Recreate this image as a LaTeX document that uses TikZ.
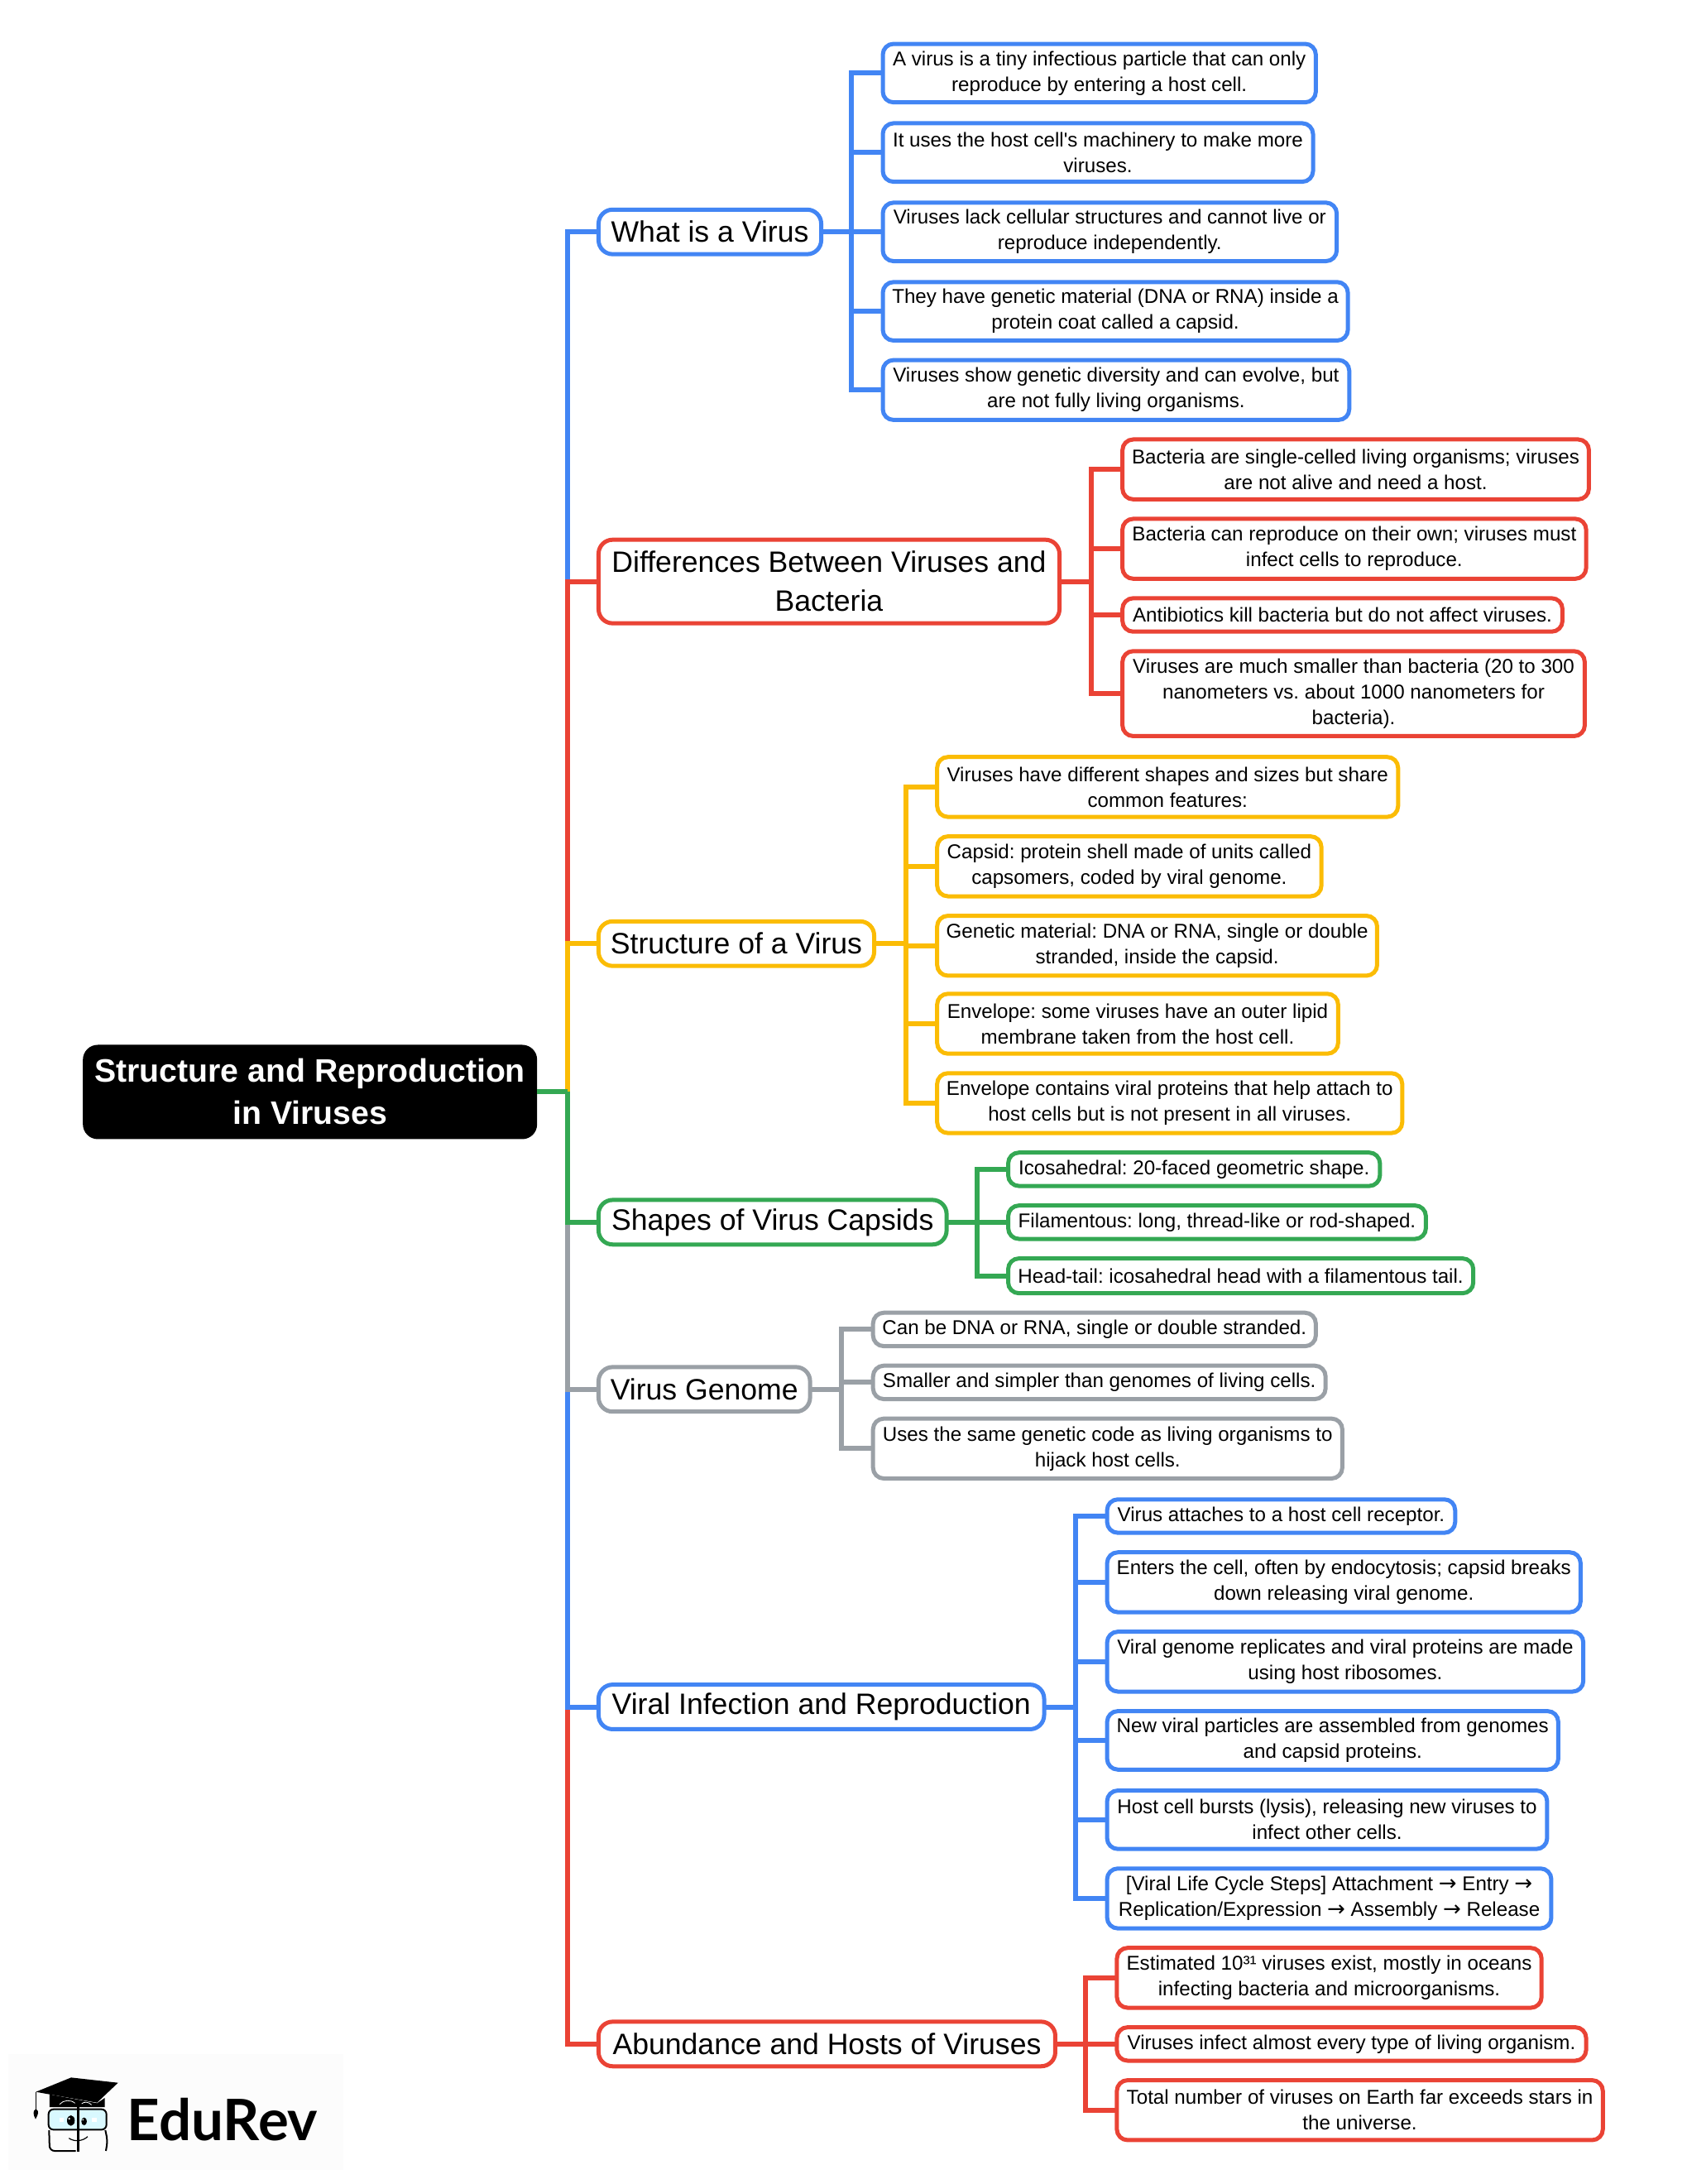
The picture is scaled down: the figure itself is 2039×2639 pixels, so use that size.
\documentclass[tikz,border=0pt]{standalone}
\usepackage{fontspec}
\newfontfamily\lib{Liberation Sans}
\newfontfamily\edu{Lato}
\newfontfamily\arrf{DejaVu Sans}
\newcommand{\harr}{{\arrf\fontsize{26}{31}\selectfont →}}
\definecolor{cblue}{HTML}{4285F4}
\definecolor{cred}{HTML}{EA4335}
\definecolor{cyel}{HTML}{FBBC05}
\definecolor{cgrn}{HTML}{34A853}
\definecolor{cgry}{HTML}{9AA0A6}
\tikzset{
 leafbox/.style={draw=#1,fill=white,line width=5pt,rounded corners=13pt,inner sep=0pt,outer sep=0pt,align=center,font=\lib\frenchspacing\fontsize{24.15}{31}\selectfont},
 mainbox/.style={draw=#1,fill=white,line width=5pt,rounded corners=17pt,inner sep=0pt,outer sep=0pt,align=center,font=\lib\frenchspacing\fontsize{35.6}{47}\selectfont},
 rootbox/.style={fill=black,text=white,rounded corners=18pt,inner sep=0pt,outer sep=0pt,align=center,font=\lib\bfseries\fontsize{39.2}{51}\selectfont},
 conn/.style={draw=#1,line width=6pt,line join=miter},
}
\newcommand{\bx}[7]{% style,colour,name,x1,x2,y1,y2 then text
 \pgfmathsetmacro{\cxx}{(#4+#5)/2}\pgfmathsetmacro{\cyy}{(#6+#7)/2}%
 \pgfmathsetmacro{\wdd}{(#5-#4-1.2)*1.684}\pgfmathsetmacro{\htt}{(#7-#6-1)*1.683}%
 \node[#1=#2,minimum width=\wdd pt,minimum height=\htt pt] (#3) at (\cxx,\cyy)}
\begin{document}
\begin{tikzpicture}[x=1.684pt,y=-1.683pt]
\useasboundingbox (0pt,0pt) rectangle (2039pt,-2639pt);
% root
\node[rootbox,minimum width=549pt,minimum height=114pt] (root) at (222.5,784) {Structure and Reproduction\\in Viruses};
% main branches
\bx{mainbox}{cblue}{m1}{429}{590}{150}{183} {What is a Virus};
\bx{mainbox}{cred}{m2}{429}{761}{387}{448} {Differences Between Viruses and\\Bacteria};
\bx{mainbox}{cyel}{m3}{429}{628}{661}{694} {Structure of a Virus};
\bx{mainbox}{cgrn}{m4}{429}{680}{861}{894} {Shapes of Virus Capsids};
\bx{mainbox}{cgry}{m5}{429}{582}{981}{1014} {Virus Genome};
\bx{mainbox}{cblue}{m6}{429}{750}{1209}{1242} {Viral Infection and Reproduction};
\bx{mainbox}{cred}{m7}{429}{758}{1451}{1484} {Abundance and Hosts of Viruses};
% leaves
\bx{leafbox}{cblue}{a1}{633}{945}{31}{74} {A virus is a tiny infectious particle that can only\\reproduce by entering a host cell.};
\bx{leafbox}{cblue}{a2}{633}{943}{88}{131} {It uses the host cell's machinery to make more\\viruses.};
\bx{leafbox}{cblue}{a3}{633}{960}{145}{188} {Viruses lack cellular structures and cannot live or\\reproduce independently.};
\bx{leafbox}{cblue}{a4}{633}{968}{202}{245} {They have genetic material (DNA or RNA) inside a\\protein coat called a capsid.};
\bx{leafbox}{cblue}{a5}{633}{969}{258}{302} {Viruses show genetic diversity and can evolve, but\\are not fully living organisms.};
\bx{leafbox}{cred}{b1}{805}{1141}{315}{359} {Bacteria are single-celled living organisms; viruses\\are not alive and need a host.};
\bx{leafbox}{cred}{b2}{805}{1139}{372}{416} {Bacteria can reproduce on their own; viruses must\\infect cells to reproduce.};
\bx{leafbox}{cred}{b3}{805}{1122}{429}{454} {Antibiotics kill bacteria but do not affect viruses.};
\bx{leafbox}{cred}{b4}{805}{1138}{467}{529} {Viruses are much smaller than bacteria (20 to 300\\nanometers vs. about 1000 nanometers for\\bacteria).};
\bx{leafbox}{cyel}{c1}{672}{1004}{543}{587} {Viruses have different shapes and sizes but share\\common features:};
\bx{leafbox}{cyel}{c2}{672}{949}{600}{644} {Capsid: protein shell made of units called\\capsomers, coded by viral genome.};
\bx{leafbox}{cyel}{c3}{672}{989}{657}{701} {Genetic material: DNA or RNA, single or double\\stranded, inside the capsid.};
\bx{leafbox}{cyel}{c4}{672}{961}{713}{757} {Envelope: some viruses have an outer lipid\\membrane taken from the host cell.};
\bx{leafbox}{cyel}{c5}{672}{1007}{770}{814} {Envelope contains viral proteins that help attach to\\host cells but is not present in all viruses.};
\bx{leafbox}{cgrn}{d1}{723}{991}{827}{852} {Icosahedral: 20-faced geometric shape.};
\bx{leafbox}{cgrn}{d2}{723}{1024}{865}{890} {Filamentous: long, thread-like or rod-shaped.};
\bx{leafbox}{cgrn}{d3}{723}{1058}{903}{929} {Head-tail: icosahedral head with a filamentous tail.};
\bx{leafbox}{cgry}{e1}{626}{945}{942}{967} {Can be DNA or RNA, single or double stranded.};
\bx{leafbox}{cgry}{e2}{626}{952}{980}{1005} {Smaller and simpler than genomes of living cells.};
\bx{leafbox}{cgry}{e3}{626}{964}{1018}{1062} {Uses the same genetic code as living organisms to\\hijack host cells.};
\bx{leafbox}{cblue}{f1}{794}{1045}{1076}{1101} {Virus attaches to a host cell receptor.};
\bx{leafbox}{cblue}{f2}{794}{1135}{1114}{1158} {Enters the cell, often by endocytosis; capsid breaks\\down releasing viral genome.};
\bx{leafbox}{cblue}{f3}{794}{1137}{1171}{1215} {Viral genome replicates and viral proteins are made\\using host ribosomes.};
\bx{leafbox}{cblue}{f4}{794}{1119}{1228}{1271} {New viral particles are assembled from genomes\\and capsid proteins.};
\bx{leafbox}{cblue}{f5}{794}{1111}{1285}{1328} {Host cell bursts (lysis), releasing new viruses to\\infect other cells.};
\bx{leafbox}{cblue}{f6}{794}{1114}{1341}{1385} {[Viral Life Cycle Steps] Attachment \harr{} Entry \harr{}\\Replication/Expression \harr{} Assembly \harr{} Release};
\bx{leafbox}{cred}{g1}{801}{1107}{1398}{1442} {Estimated 10³¹ viruses exist, mostly in oceans\\infecting bacteria and microorganisms.};
\bx{leafbox}{cred}{g2}{801}{1139}{1455}{1480} {Viruses infect almost every type of living organism.};
\bx{leafbox}{cred}{g3}{801}{1151}{1493}{1537} {Total number of viruses on Earth far exceeds stars in\\the universe.};
% trunk
\coordinate (tj) at (407.5,784);
\foreach \m/\c in {m1/cblue,m2/cred,m3/cyel,m7/cred,m6/cblue,m5/cgry,m4/cgrn}
  \draw[conn=\c] (tj) |- (\m.west);
\draw[conn=cgrn] (root.east) -- (tj);
% groups
\foreach \m/\c/\x/\ls in {m1/cblue/611/{a1,a2,a3,a4,a5},m2/cred/783/{b1,b2,b3,b4},m3/cyel/650/{c1,c2,c3,c4,c5},m4/cgrn/701/{d1,d2,d3},m5/cgry/604/{e1,e2,e3},m6/cblue/772/{f1,f2,f3,f4,f5,f6},m7/cred/779/{g1,g2,g3}}{
  \coordinate (jn) at (\x,0);
  \draw[conn=\c] (\m.east) -- (\m.east -| jn);
  \foreach \l in \ls { \draw[conn=\c] (\m.east -| jn) |- (\l.west); }
}
% logo
\begin{scope}[yshift=-2400pt,x=0.33333pt,y=-0.33333pt]
 \fill[fill=black!1] (30,245) rectangle (1245,665);
 \fill[black] (130,383) -- (258,331) -- (428,350) -- (352,422) -- (180,392) -- cycle;
 \fill[black] (180,392) -- (352,424) -- (380,405) -- (380,438) -- (180,438) -- cycle;
 \draw[black,line width=1.2pt] (130,383) -- (130,450);
 \fill[black] (130,445) .. controls (118,452) and (120,465) .. (129,482) .. controls (138,465) and (144,452) .. (130,445) -- cycle;
 \draw[white,line width=0.8pt] (216,428) .. controls (230,412) and (255,410) .. (272,424);
 \draw[white,line width=0.8pt] (296,426) .. controls (305,418) and (320,418) .. (332,430);
 \draw[black,line width=2pt,fill=blue!15!cyan!15!white,rounded corners=6pt] (176,446) rectangle (386,520);
 \draw[black,line width=2pt,rounded corners=6pt] (275,597) -- (180,597) -- (178,522);
 \draw[black,line width=2pt,rounded corners=6pt] (382,522) -- (390,560) -- (384,597);
 \draw[black,line width=2.6pt] (284,437) -- (284,600);
 \draw[black,line width=1.2pt] (250,551) .. controls (270,565) and (300,562) .. (318,545);
 \fill[black] (257,487) ellipse [x radius=14,y radius=19];
 \fill[black] (305,490) ellipse [x radius=10,y radius=14];
 \fill[white] (251,480) circle (4); \fill[white] (301,484) circle (3);
 \fill[white] (217,477) rectangle (232,491);
 \fill[white] (334,477) rectangle (350,491);
 \node[anchor=base west,inner sep=0pt,font=\edu\bfseries\fontsize{69}{69}\selectfont] (logo) at (461,560) {EduRev};
\end{scope}
\end{tikzpicture}
\end{document}
